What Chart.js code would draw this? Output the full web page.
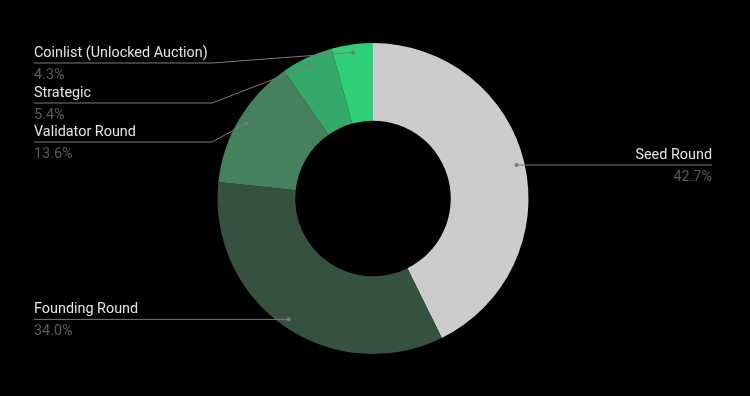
<!DOCTYPE html>
<html><head><meta charset="utf-8">
<script src="https://cdn.jsdelivr.net/npm/chart.js@4/dist/chart.umd.min.js"></script>
<style>html,body{margin:0;padding:0;background:#000;}#wrap{width:750px;height:396px;}</style>
</head><body><div id="wrap"><canvas id="c" width="750" height="396"></canvas></div>
<script>
const categories = ["Seed Round", "Founding Round", "Validator Round", "Strategic", "Coinlist (Unlocked Auction)"];
const shares = [42.7, 34.0, 13.6, 5.4, 4.3];
const percentLabels = ["42.7%", "34.0%", "13.6%", "5.4%", "4.3%"];
const sliceColors = ["#cccccc", "#37513f", "#45815c", "#34a96a", "#2ecf78"];

const labelPlugin = {
  id: 'leaderLabels',
  afterDatasetsDraw(chart) {
    const ctx = chart.ctx;
    const meta = chart.getDatasetMeta(0);
    const leftX = 34, rightX = 712, elbowX = 212;
    const stackY = {2: 142, 3: 103, 4: 63};
    ctx.save();
    ctx.font = '14.4px Roboto';
    meta.data.forEach((arc, i) => {
      const p = arc.getProps(['x','y','startAngle','endAngle','outerRadius'], true);
      const mid = (p.startAngle + p.endAngle) / 2;
      const r = p.outerRadius * 0.948;
      const dx = p.x + Math.cos(mid) * r;
      const dy = p.y + Math.sin(mid) * r;
      const right = Math.cos(mid) >= 0;
      const ly = stackY[i] !== undefined ? stackY[i] : dy;
      ctx.strokeStyle = '#7a7a7a';
      ctx.lineWidth = 1;
      ctx.beginPath();
      ctx.moveTo(dx, dy);
      if (right) {
        ctx.lineTo(rightX, ly);
      } else {
        if (Math.abs(ly - dy) > 0.5) ctx.lineTo(elbowX, ly);
        ctx.lineTo(leftX, ly);
      }
      ctx.stroke();
      ctx.fillStyle = '#7a7a7a';
      ctx.beginPath();
      ctx.arc(dx, dy, 2, 0, Math.PI * 2);
      ctx.fill();
      ctx.textAlign = right ? 'right' : 'left';
      ctx.textBaseline = 'middle';
      const tx = right ? rightX : leftX;
      ctx.fillStyle = '#e2e2e2';
      ctx.fillText(chart.data.labels[i], tx, ly - 9.5);
      ctx.fillStyle = '#5a5a5a';
      ctx.fillText(percentLabels[i], tx, ly + 12.5);
    });
    ctx.restore();
  }
};

new Chart(document.getElementById('c'), {
  type: 'doughnut',
  data: {
    labels: categories,
    datasets: [{ data: shares, backgroundColor: sliceColors, borderWidth: 0 }]
  },
  options: {
    responsive: false,
    animation: false,
    cutout: '50%',
    layout: { padding: { top: 43, bottom: 42, left: 0, right: 4 } },
    plugins: { legend: { display: false }, tooltip: { enabled: false } }
  },
  plugins: [labelPlugin]
});
</script>
</body></html>
